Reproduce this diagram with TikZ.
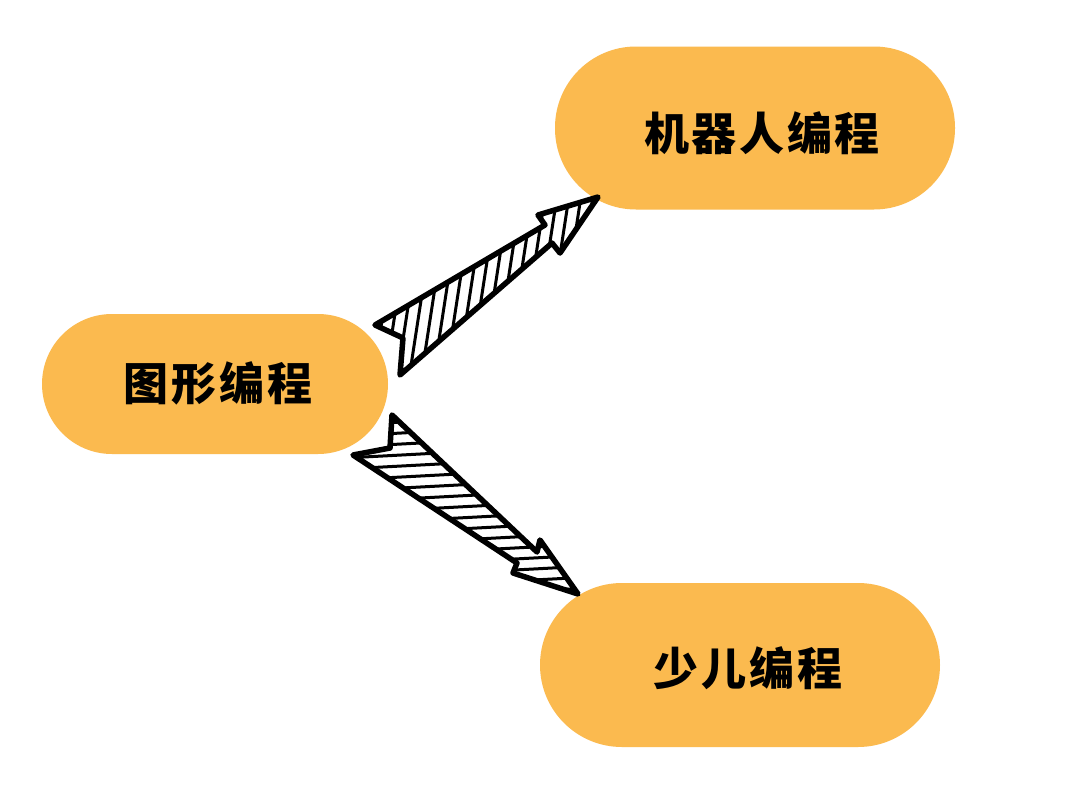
\documentclass[tikz,border=0pt]{standalone}
\usepackage{fontspec}
\newfontfamily\cjk{Noto Sans CJK SC}[LetterSpace=6]
\definecolor{pill}{HTML}{FBBA4F}
\tikzset{
  pillbox/.style={fill=pill, draw=none, rounded corners=#1, inner sep=0pt},
  pilltext/.style={font=\cjk\bfseries\fontsize{45}{50}\selectfont, text=black},
  outline/.style={draw=black, line width=5.5pt, line join=round},
  hatch/.style={draw=black, line width=3pt, line cap=round},
}
\begin{document}
\begin{tikzpicture}[x=1pt,y=-1pt]
\useasboundingbox[fill=white] (0,0) rectangle (1080,809);

% nodes
\node[pillbox=70pt, minimum width=346pt, minimum height=140pt] (g) at (215,384) {};
\node[pillbox=81pt, minimum width=400pt, minimum height=163pt] (r) at (755,128) {};
\node[pillbox=82pt, minimum width=400pt, minimum height=164pt] (s) at (740,665) {};
\node[pilltext] (gt) at (218,383) {图形编程};
\node[pilltext] (rt) at (762,133) {机器人编程};
\node[pilltext] (st) at (748,668) {少儿编程};

% upper arrow
\coordinate (a1) at (375,325);
\coordinate (a2) at (403,338);
\coordinate (a3) at (400,375);
\coordinate (a4) at (552,243);
\coordinate (a5) at (560,253);
\coordinate (a6) at (598,197);
\coordinate (a7) at (538,215);
\coordinate (a8) at (545,225);
\fill[white] (a1)--(a2)--(a3)--(a4)--(a5)--(a6)--(a7)--(a8)--cycle;
\begin{scope}
  \clip (a1)--(a2)--(a3)--(a4)--(a5)--(a6)--(a7)--(a8)--cycle;
  \foreach \i in {0,...,20} {
    \draw[hatch] (372+\i*12,385) -- (402+\i*12,190);
  }
\end{scope}
\draw[outline] (a1)--(a2)--(a3)--(a4)--(a5)--(a6)--(a7)--(a8)--cycle;

% lower arrow
\coordinate (b1) at (392,415);
\coordinate (b2) at (390,448);
\coordinate (b3) at (353,455);
\coordinate (b4) at (517,563);
\coordinate (b5) at (513,573);
\coordinate (b6) at (578,594);
\coordinate (b7) at (540,540);
\coordinate (b8) at (537,552);
\fill[white] (b1)--(b2)--(b3)--(b4)--(b5)--(b6)--(b7)--(b8)--cycle;
\begin{scope}
  \clip (b1)--(b2)--(b3)--(b4)--(b5)--(b6)--(b7)--(b8)--cycle;
  \foreach \i in {0,...,18} {
    \draw[hatch] (345,425+\i*11) -- (590,412+\i*11);
  }
\end{scope}
\draw[outline] (b1)--(b2)--(b3)--(b4)--(b5)--(b6)--(b7)--(b8)--cycle;
\end{tikzpicture}
\end{document}
